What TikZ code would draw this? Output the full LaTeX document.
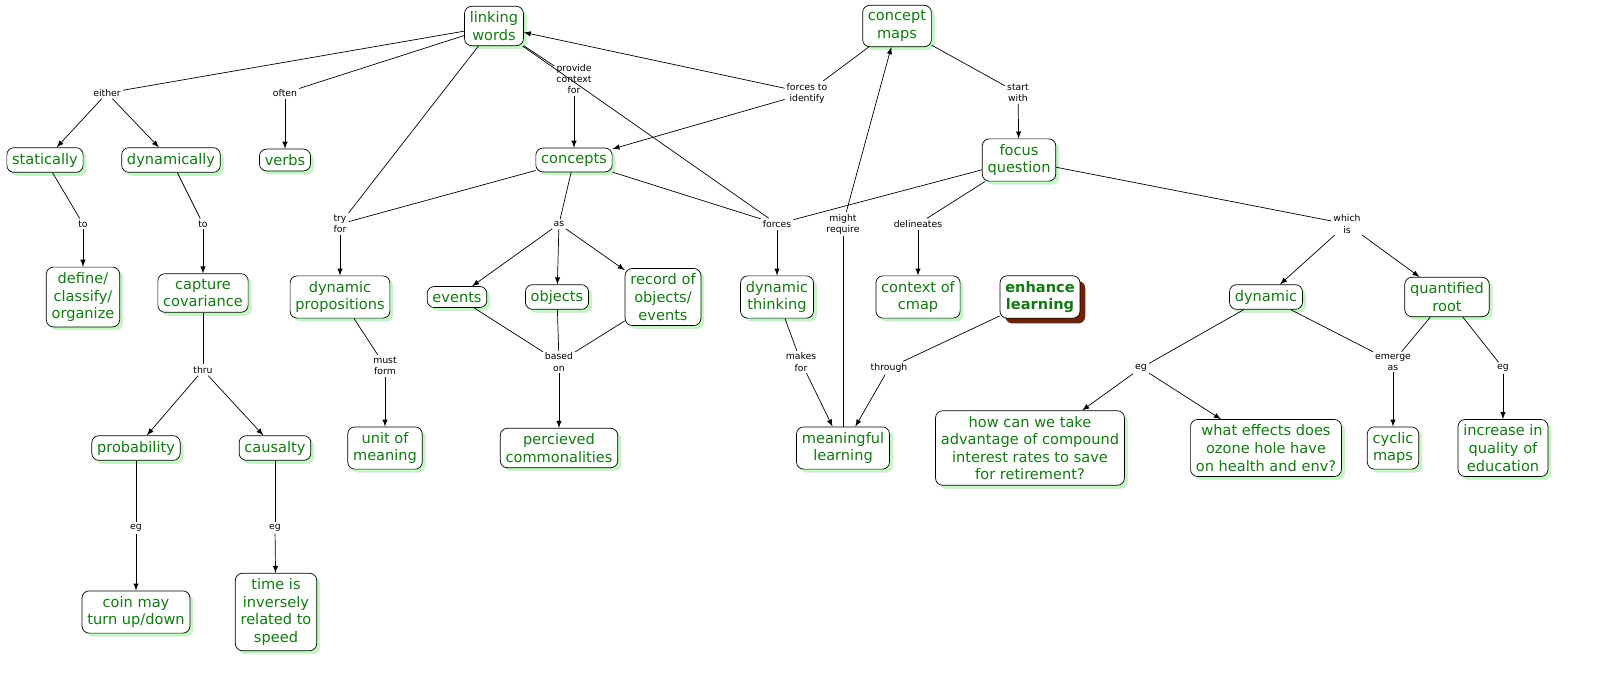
\documentclass[tikz,border=0pt]{standalone}
\usepackage{fontspec}
\setmainfont{DejaVu Sans}
\usepackage{xcolor}
\usepackage{tikz}
\usetikzlibrary{arrows,shapes,positioning,shadows}

\definecolor{mapgreen}{RGB}{20,120,20}
\definecolor{shadegreen}{RGB}{200,245,200}
\definecolor{shadebrown}{RGB}{110,35,10}

\begin{document}
\begin{tikzpicture}[x=0.02cm,y=-0.02cm,
  concept/.style={rectangle,rounded corners=4pt,draw,fill=white,text=mapgreen,
    font=\fontsize{8.3}{10}\selectfont,align=center,inner sep=3pt,
    drop shadow={shadow xshift=2pt,shadow yshift=-2pt,fill=shadegreen,opacity=1}},
  focus/.style={concept,font=\fontsize{8.3}{10}\selectfont\bfseries,
    drop shadow={shadow xshift=3pt,shadow yshift=-3pt,fill=shadebrown,opacity=1}},
  phrase/.style={fill=white,inner sep=1pt,align=center,font=\fontsize{5.3}{6.3}\selectfont},
  link/.style={-latex,thin}]

  % concepts, top rows
  \node[concept] (words) at (494,26) {linking\\words};
  \node[concept] (maps) at (897,26) {concept\\maps};
  \node[concept] (static) at (45,160) {statically};
  \node[concept] (dynly) at (171,160) {dynamically};
  \node[concept] (verbs) at (285,160) {verbs};
  \node[concept] (concepts) at (574,160) {concepts};
  \node[concept] (question) at (1019,160) {focus\\question};

  \node[concept] (define) at (83,297) {define/\\classify/\\organize};
  \node[concept] (capture) at (203,293) {capture\\covariance};
  \node[concept] (props) at (340,297) {dynamic\\propositions};
  \node[concept] (events) at (457,297) {events};
  \node[concept] (objects) at (557,297) {objects};
  \node[concept] (record) at (663,297) {record of\\objects/\\events};
  \node[concept] (thinking) at (777,297) {dynamic\\thinking};
  \node[concept] (context) at (918,297) {context of\\cmap};
  \node[focus] (enhance) at (1040,297) {enhance\\learning};
  \node[concept] (dynamic) at (1266,297) {dynamic};
  \node[concept] (root) at (1447,297) {quantified\\root};

  \node[concept] (prob) at (136,448) {probability};
  \node[concept] (causal) at (275,448) {causalty};
  \node[concept] (unit) at (385,448) {unit of\\meaning};
  \node[concept] (common) at (559,448) {percieved\\commonalities};
  \node[concept] (meaning) at (843,448) {meaningful\\learning};
  \node[concept] (howcan) at (1030,448) {how can we take\\advantage of compound\\interest rates to save\\for retirement?};
  \node[concept] (ozone) at (1266,448) {what effects does\\ozone hole have\\on health and env?};
  \node[concept] (cyclic) at (1393,448) {cyclic\\maps};
  \node[concept] (quality) at (1503,448) {increase in\\quality of\\education};

  \node[concept] (coin) at (136,612) {coin may\\turn up/down};
  \node[concept] (speed) at (276,612) {time is\\inversely\\related to\\speed};

  % linking phrases
  \node[phrase] (either) at (107,93) {either};
  \node[phrase] (often) at (285,93) {often};
  \node[phrase] (provide) at (574,79) {provide\\context\\for};
  \node[phrase] (identify) at (807,93) {forces to\\identify};
  \node[phrase] (start) at (1018,93) {start\\with};
  \node[phrase] (to1) at (83,224) {to};
  \node[phrase] (to2) at (203,224) {to};
  \node[phrase] (tryfor) at (340,224) {try\\for};
  \node[phrase] (as) at (559,224) {as};
  \node[phrase] (forces) at (777,224) {forces};
  \node[phrase] (require) at (843,224) {might\\require};
  \node[phrase] (delin) at (918,224) {delineates};
  \node[phrase] (whichis) at (1347,224) {which\\is};
  \node[phrase] (thru) at (203,370) {thru};
  \node[phrase] (mustform) at (385,366) {must\\form};
  \node[phrase] (basedon) at (559,362) {based\\on};
  \node[phrase] (makesfor) at (801,362) {makes\\for};
  \node[phrase] (through) at (889,368) {through};
  \node[phrase] (eg1) at (1141,368) {eg};
  \node[phrase] (emerge) at (1393,362) {emerge\\as};
  \node[phrase] (eg2) at (1503,368) {eg};
  \node[phrase] (eg3) at (136,528) {eg};
  \node[phrase] (eg4) at (275,528) {eg};

  % connectors
  \draw (words) -- (either);
  \draw[link] (either) -- (static);
  \draw[link] (either) -- (dynly);
  \draw (words) -- (often);
  \draw[link] (often) -- (verbs);
  \draw (words) -- (provide);
  \draw[link] (provide) -- (concepts);
  \draw (maps) -- (identify);
  \draw[link] (identify) -- (words);
  \draw[link] (identify) -- (concepts);
  \draw (maps) -- (start);
  \draw[link] (start) -- (question);

  \draw (static) -- (to1);
  \draw[link] (to1) -- (define);
  \draw (dynly) -- (to2);
  \draw[link] (to2) -- (capture);
  \draw (words) -- (tryfor);
  \draw (concepts) -- (tryfor);
  \draw[link] (tryfor) -- (props);
  \draw (concepts) -- (as);
  \draw[link] (as) -- (events);
  \draw[link] (as) -- (objects);
  \draw[link] (as) -- (record);
  \draw (concepts) -- (forces);
  \draw (words) -- (forces);
  \draw (question) -- (forces);
  \draw[link] (forces) -- (thinking);
  \draw (meaning) -- (require);
  \draw[link] (require) -- (maps);
  \draw (question) -- (delin);
  \draw[link] (delin) -- (context);
  \draw (question) -- (whichis);
  \draw[link] (whichis) -- (dynamic);
  \draw[link] (whichis) -- (root);

  \draw (capture) -- (thru);
  \draw[link] (thru) -- (prob);
  \draw[link] (thru) -- (causal);
  \draw (props) -- (mustform);
  \draw[link] (mustform) -- (unit);
  \draw (events) -- (basedon);
  \draw (objects) -- (basedon);
  \draw (record) -- (basedon);
  \draw[link] (basedon) -- (common);
  \draw (thinking) -- (makesfor);
  \draw[link] (makesfor) -- (meaning);
  \draw (enhance) -- (through);
  \draw[link] (through) -- (meaning);
  \draw (dynamic) -- (eg1);
  \draw[link] (eg1) -- (howcan);
  \draw[link] (eg1) -- (ozone);
  \draw (dynamic) -- (emerge);
  \draw (root) -- (emerge);
  \draw[link] (emerge) -- (cyclic);
  \draw (root) -- (eg2);
  \draw[link] (eg2) -- (quality);
  \draw (prob) -- (eg3);
  \draw[link] (eg3) -- (coin);
  \draw (causal) -- (eg4);
  \draw[link] (eg4) -- (speed);

  \pgfresetboundingbox
  \useasboundingbox (0,0) rectangle (1600,674);
\end{tikzpicture}
\end{document}
